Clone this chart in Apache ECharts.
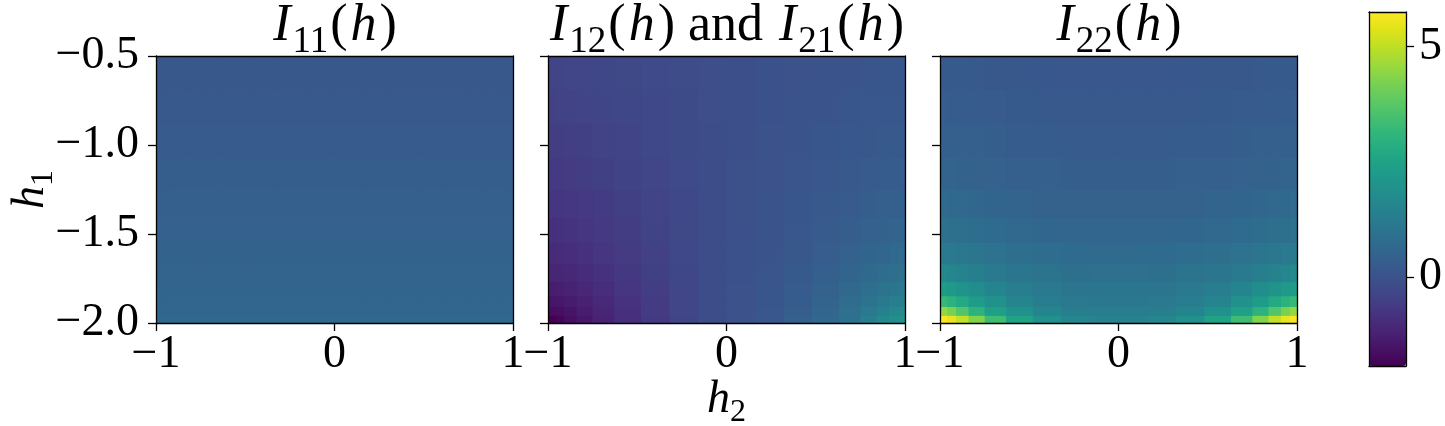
<!DOCTYPE html>
<html><head><meta charset="utf-8">
<script src="https://cdn.jsdelivr.net/npm/echarts@6/dist/echarts.min.js"></script>
<style>html,body{margin:0;padding:0;background:#fff}#c{width:1445px;height:426px}</style>
</head><body><div id="c"></div><script>
// cell edges (data coordinates)
const h2Edges = [-1,-0.96,-0.91,-0.84,-0.75,-0.63,-0.48,-0.32,-0.16,0,0.16,0.32,0.48,0.63,0.75,0.84,0.91,0.96,1];
const h1Edges = [-0.5,-0.69,-0.88,-1.07,-1.25,-1.41,-1.55,-1.67,-1.77,-1.85,-1.91,-1.96,-2];
const xTickRange = [-1, 1];
const yTickRange = [-2, -0.5];
const cbTicks = [0, 5];
const cbRange = [-1.93, 5.75];

// rows: top (h1=-0.5) to bottom (h1=-2); columns: h2 from -1 to 1
const I11 = [
 [0.16,0.16,0.16,0.16,0.16,0.16,0.16,0.16,0.16,0.16,0.16,0.16,0.16,0.16,0.16,0.16,0.16,0.16],
 [0.21,0.21,0.21,0.21,0.21,0.21,0.21,0.21,0.21,0.21,0.21,0.21,0.21,0.21,0.21,0.21,0.21,0.21],
 [0.27,0.27,0.27,0.27,0.27,0.27,0.27,0.27,0.27,0.27,0.27,0.27,0.27,0.27,0.27,0.27,0.27,0.27],
 [0.33,0.33,0.33,0.33,0.33,0.33,0.33,0.33,0.33,0.33,0.33,0.33,0.33,0.33,0.33,0.33,0.33,0.33],
 [0.39,0.39,0.39,0.39,0.39,0.39,0.39,0.39,0.39,0.39,0.39,0.39,0.39,0.39,0.39,0.39,0.39,0.39],
 [0.44,0.44,0.44,0.44,0.44,0.44,0.44,0.44,0.44,0.44,0.44,0.44,0.44,0.44,0.44,0.44,0.44,0.44],
 [0.49,0.49,0.49,0.49,0.49,0.49,0.49,0.49,0.49,0.49,0.49,0.49,0.49,0.49,0.49,0.49,0.49,0.49],
 [0.53,0.53,0.53,0.53,0.53,0.53,0.53,0.53,0.53,0.53,0.53,0.53,0.53,0.53,0.53,0.53,0.53,0.53],
 [0.56,0.56,0.56,0.56,0.56,0.56,0.56,0.56,0.56,0.56,0.56,0.56,0.56,0.56,0.56,0.56,0.56,0.56],
 [0.59,0.59,0.59,0.59,0.59,0.59,0.59,0.59,0.59,0.59,0.59,0.59,0.59,0.59,0.59,0.59,0.59,0.59],
 [0.61,0.61,0.61,0.61,0.61,0.61,0.61,0.61,0.61,0.61,0.61,0.61,0.61,0.61,0.61,0.61,0.61,0.61],
 [0.63,0.63,0.63,0.63,0.63,0.63,0.63,0.63,0.63,0.63,0.63,0.63,0.63,0.63,0.63,0.63,0.63,0.63]
];
const I12 = [
 [-0.38,-0.37,-0.35,-0.33,-0.30,-0.26,-0.22,-0.17,-0.12,-0.08,-0.04,0.00,0.03,0.06,0.08,0.10,0.11,0.12],
 [-0.46,-0.45,-0.43,-0.40,-0.36,-0.31,-0.25,-0.19,-0.13,-0.08,-0.03,0.02,0.06,0.10,0.13,0.15,0.16,0.17],
 [-0.55,-0.54,-0.51,-0.48,-0.43,-0.37,-0.29,-0.21,-0.14,-0.08,-0.02,0.04,0.10,0.15,0.18,0.21,0.22,0.23],
 [-0.64,-0.63,-0.60,-0.56,-0.50,-0.42,-0.33,-0.23,-0.14,-0.07,0.00,0.07,0.14,0.20,0.25,0.28,0.30,0.31],
 [-0.75,-0.73,-0.70,-0.65,-0.58,-0.48,-0.37,-0.25,-0.14,-0.06,0.02,0.10,0.19,0.27,0.33,0.37,0.40,0.41],
 [-0.87,-0.85,-0.81,-0.75,-0.66,-0.55,-0.41,-0.27,-0.14,-0.05,0.04,0.14,0.25,0.35,0.43,0.49,0.52,0.54],
 [-1.00,-0.98,-0.93,-0.86,-0.75,-0.62,-0.46,-0.29,-0.14,-0.04,0.06,0.18,0.31,0.44,0.55,0.62,0.67,0.69],
 [-1.15,-1.12,-1.06,-0.97,-0.85,-0.69,-0.50,-0.31,-0.14,-0.03,0.08,0.22,0.38,0.54,0.68,0.78,0.84,0.87],
 [-1.32,-1.28,-1.21,-1.10,-0.95,-0.76,-0.55,-0.33,-0.14,-0.02,0.10,0.26,0.45,0.65,0.83,0.97,1.06,1.10],
 [-1.50,-1.45,-1.36,-1.22,-1.04,-0.82,-0.58,-0.34,-0.14,-0.01,0.12,0.30,0.52,0.76,1.00,1.18,1.30,1.36],
 [-1.70,-1.63,-1.51,-1.34,-1.12,-0.87,-0.61,-0.35,-0.14,0.00,0.14,0.33,0.58,0.87,1.17,1.42,1.58,1.66],
 [-1.92,-1.82,-1.64,-1.43,-1.18,-0.91,-0.63,-0.36,-0.14,0.00,0.15,0.36,0.63,0.96,1.32,1.64,1.84,1.92]
];
const I22 = [
 [0.24,0.23,0.22,0.20,0.18,0.17,0.15,0.14,0.14,0.14,0.14,0.15,0.17,0.18,0.20,0.22,0.23,0.24],
 [0.31,0.30,0.29,0.27,0.25,0.23,0.21,0.20,0.20,0.20,0.20,0.21,0.23,0.25,0.27,0.29,0.30,0.31],
 [0.41,0.40,0.38,0.36,0.33,0.30,0.28,0.27,0.27,0.27,0.27,0.28,0.30,0.33,0.36,0.38,0.40,0.41],
 [0.53,0.52,0.50,0.47,0.43,0.40,0.37,0.35,0.35,0.35,0.35,0.37,0.40,0.43,0.47,0.50,0.52,0.53],
 [0.70,0.68,0.65,0.61,0.56,0.51,0.47,0.45,0.45,0.45,0.45,0.47,0.51,0.56,0.61,0.65,0.68,0.70],
 [0.92,0.89,0.85,0.80,0.73,0.66,0.61,0.58,0.58,0.58,0.58,0.61,0.66,0.73,0.80,0.85,0.89,0.92],
 [1.22,1.18,1.12,1.04,0.95,0.85,0.78,0.73,0.72,0.72,0.73,0.78,0.85,0.95,1.04,1.12,1.18,1.22],
 [1.65,1.58,1.48,1.36,1.22,1.08,0.97,0.90,0.87,0.87,0.90,0.97,1.08,1.22,1.36,1.48,1.58,1.65],
 [2.30,2.18,2.00,1.78,1.55,1.33,1.17,1.07,1.03,1.03,1.07,1.17,1.33,1.55,1.78,2.00,2.18,2.30],
 [3.20,3.00,2.70,2.30,1.90,1.55,1.30,1.16,1.11,1.11,1.16,1.30,1.55,1.90,2.30,2.70,3.00,3.20],
 [4.50,4.20,3.65,3.00,2.40,1.90,1.55,1.36,1.30,1.30,1.36,1.55,1.90,2.40,3.00,3.65,4.20,4.50],
 [5.70,5.50,5.05,4.30,3.35,2.50,1.90,1.58,1.47,1.47,1.58,1.90,2.50,3.35,4.30,5.05,5.50,5.70]
];
const panels = [I11, I12, I22];

const viridis = ['#440154','#471365','#482475','#463480','#414487','#3b528b','#355f8d','#2f6c8e','#2a788e','#25848e','#21918c','#1e9c89','#22a884','#2fb47c','#44bf70','#5ec962','#7ad151','#9bd93c','#bddf26','#dfe318','#fde725'];

const FONT = '"Liberation Serif","DejaVu Serif",serif';
const TICK_FS = 46;
const rich = {
  i: {fontFamily: FONT, fontStyle: 'italic', fontSize: 52, color: '#000', lineHeight: 60, verticalAlign: 'bottom', padding: [0,2,0,2]},
  n: {fontFamily: FONT, fontSize: 52, color: '#000', lineHeight: 60, verticalAlign: 'bottom', padding: [0,1,0,1]},
  s: {fontFamily: FONT, fontSize: 37, color: '#000', lineHeight: 44, verticalAlign: 'bottom', padding: [0,1,-9,0]}
};
const richName = {
  i: {fontFamily: FONT, fontStyle: 'italic', fontSize: 46, color: '#000', lineHeight: 50, verticalAlign: 'bottom'},
  s: {fontFamily: FONT, fontSize: 32, color: '#000', lineHeight: 36, verticalAlign: 'bottom', padding: [0,0,-6,0]}
};
const titles = [
  '{i|I}{s|11}{n|(}{i|h}{n|)}',
  '{i|I}{s|12}{n|(}{i|h}{n|) and }{i|I}{s|21}{n|(}{i|h}{n|)}',
  '{i|I}{s|22}{n|(}{i|h}{n|)}'
];

const L = [156, 548, 940], W = 357, T = 56, H = 267;
const minus = s => String(s).replace('-', '\u2212');
const black = {color: '#000', width: 1.3};

const grid = [], xAxis = [], yAxis = [], series = [], graphic = [];
panels.forEach((rows, p) => {
  grid.push({left: L[p], top: T, width: W, height: H, containLabel: false, outerBoundsMode: 'none'});
  xAxis.push({gridIndex: p, type: 'value', min: xTickRange[0], max: xTickRange[1], interval: 1, position: 'bottom', z: 10,
    axisLine: {show: true, onZero: false, lineStyle: black},
    axisTick: {show: true, length: 8, lineStyle: black},
    axisLabel: {show: true, fontSize: TICK_FS, fontFamily: FONT, color: '#000', margin: 9, formatter: v => minus(v)},
    splitLine: {show: false},
    name: p === 1 ? '{i|h}{s|2}' : '', nameLocation: 'middle', nameGap: 50, nameMoveOverlap: false,
    nameTextStyle: {rich: richName}});
  xAxis.push({gridIndex: p, type: 'value', min: xTickRange[0], max: xTickRange[1], position: 'top', z: 10,
    axisLine: {show: true, onZero: false, lineStyle: black}, axisTick: {show: false}, axisLabel: {show: false}, splitLine: {show: false}});
  yAxis.push({gridIndex: p, type: 'value', min: yTickRange[0], max: yTickRange[1], interval: 0.5, position: 'left', z: 10,
    axisLine: {show: true, onZero: false, lineStyle: black},
    axisTick: {show: true, length: 8, lineStyle: black},
    axisLabel: {show: p === 0, fontSize: TICK_FS, fontFamily: FONT, color: '#000', margin: 17, formatter: v => minus(v.toFixed(1))},
    splitLine: {show: false},
    name: p === 0 ? '{i|h}{s|1}' : '', nameLocation: 'middle', nameGap: 102, nameRotate: 90, nameMoveOverlap: false,
    nameTextStyle: {rich: richName}});
  yAxis.push({gridIndex: p, type: 'value', min: yTickRange[0], max: yTickRange[1], position: 'right', z: 10,
    axisLine: {show: true, onZero: false, lineStyle: black}, axisTick: {show: false}, axisLabel: {show: false}, splitLine: {show: false}});
  const data = [];
  rows.forEach((row, r) => row.forEach((v, c) => data.push([c, r, v])));
  series.push({type: 'custom', xAxisIndex: 2 * p, yAxisIndex: 2 * p, clip: true, silent: true, z: 2,
    encode: {x: 0, y: 1},
    renderItem: (params, api) => {
      const c = api.value(0), r = api.value(1);
      const a = api.coord([h2Edges[c], h1Edges[r]]);
      const b = api.coord([h2Edges[c + 1], h1Edges[r + 1]]);
      return {type: 'rect', shape: {x: a[0], y: a[1], width: b[0] - a[0] + 1, height: b[1] - a[1] + 1},
        style: {fill: api.visual('color')}};
    },
    data: data});
  graphic.push({type: 'text', x: L[p] + W / 2, y: T - 4, z: 20,
    style: {text: titles[p], rich: rich, align: 'center', verticalAlign: 'bottom'}});
});

// colorbar frame + ticks
const CB = {left: 1369, top: 12, width: 37, height: 354};
grid.push({left: CB.left, top: CB.top, width: CB.width, height: CB.height, outerBoundsMode: 'none'});
xAxis.push({gridIndex: 3, type: 'value', min: 0, max: 1, position: 'bottom', z: 10,
  axisLine: {show: true, onZero: false, lineStyle: black}, axisTick: {show: false}, axisLabel: {show: false}, splitLine: {show: false}});
xAxis.push({gridIndex: 3, type: 'value', min: 0, max: 1, position: 'top', z: 10,
  axisLine: {show: true, onZero: false, lineStyle: black}, axisTick: {show: false}, axisLabel: {show: false}, splitLine: {show: false}});
yAxis.push({gridIndex: 3, type: 'value', min: cbRange[0], max: cbRange[1], position: 'left', z: 10,
  axisLine: {show: true, onZero: false, lineStyle: black}, axisTick: {show: false}, axisLabel: {show: false}, splitLine: {show: false}});
yAxis.push({gridIndex: 3, type: 'value', min: cbRange[0], max: cbRange[1], position: 'right', z: 10,
  axisLine: {show: true, onZero: false, lineStyle: black},
  axisTick: {show: true, length: 8, lineStyle: black, customValues: cbTicks},
  axisLabel: {show: true, fontSize: TICK_FS, fontFamily: FONT, color: '#000', margin: 13, customValues: cbTicks, formatter: v => minus(v)},
  splitLine: {show: false}});

const chart = echarts.init(document.getElementById('c'), null, {renderer: 'canvas'});
chart.setOption({
  animation: false,
  backgroundColor: '#fff',
  grid, xAxis, yAxis, series, graphic,
  visualMap: {type: 'continuous', min: cbRange[0], max: cbRange[1], dimension: 2, seriesIndex: [0, 1, 2],
    calculable: false, realtime: false, left: CB.left, top: CB.top, itemWidth: CB.width, itemHeight: CB.height,
    padding: 0, text: null, showLabel: false, hoverLink: false, inRange: {color: viridis}}
});
</script></body></html>
